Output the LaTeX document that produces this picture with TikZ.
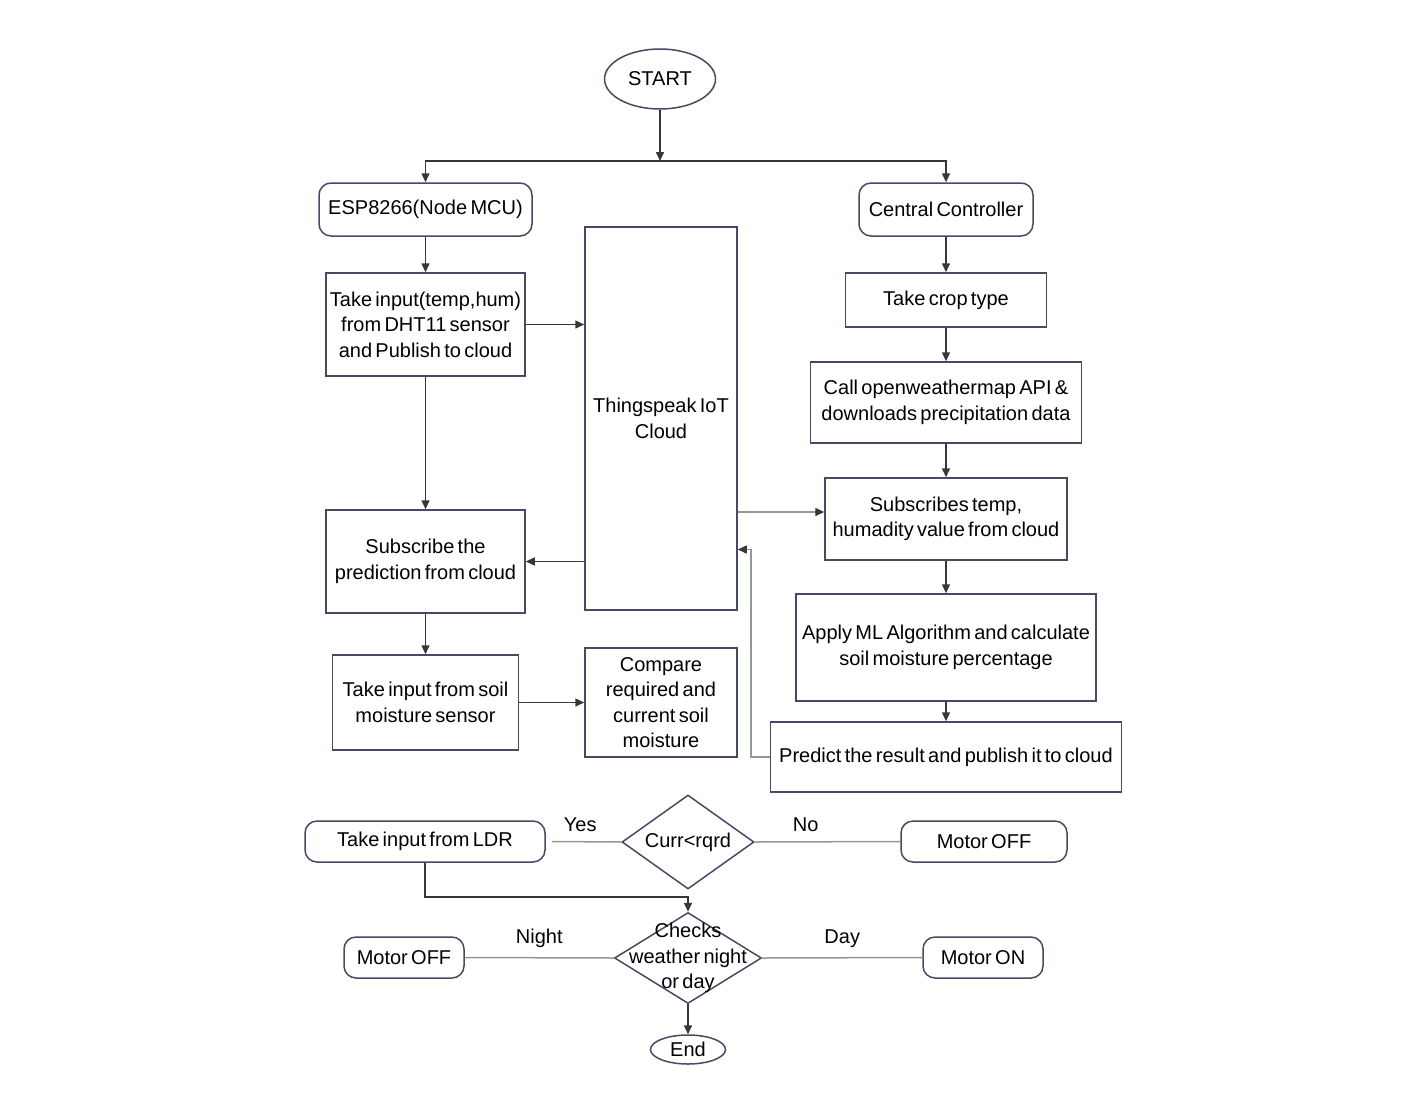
\documentclass[tikz,border=0pt]{standalone}
\usepackage{fontspec}
\setmainfont{Liberation Sans}[WordSpace=0.6]
\usetikzlibrary{shapes.geometric}
\usetikzlibrary{arrows.meta}
\definecolor{boxline}{RGB}{70,74,100}
\definecolor{arrowline}{RGB}{55,55,55}
\definecolor{plainline}{RGB}{150,150,150}
\newcommand\flowfont{\fontsize{20}{25.5}\selectfont}

\begin{document}
\begin{tikzpicture}[x=1pt, y=-1pt, font=\flowfont,
  box/.style={draw=boxline, line width=1.5pt, inner sep=2pt, align=center},
  roundbox/.style={box, rounded corners=12pt},
  term/.style={draw=boxline, line width=1.5pt, ellipse, inner sep=1pt},
  decision/.style={draw=boxline, line width=1.5pt, diamond, inner sep=0pt},
  flow/.style={draw=arrowline, line width=1.5pt, -{Triangle[length=9pt,width=8pt,color=arrowline]}},
  plain/.style={draw=plainline, line width=1.5pt},
  answer/.style={above=8pt, inner sep=1pt}]
  \useasboundingbox (0,0) rectangle (1425,1096);

  % \draw [step=50, very thin] (0,0) grid (1425,1096);
  \node [term, minimum width=111, minimum height=60] (start) at (660,79) {START};

  % left column
  \node [roundbox, minimum width=213, minimum height=53] (esp) at (425.5,209.5) {ESP8266(Node MCU)};
  \node [box, minimum width=199, minimum height=103] (dht) at (425.5,324.5) {Take input(temp,hum)\\from DHT11 sensor\\and Publish to cloud};
  \node [box, minimum width=199, minimum height=103] (subpred) at (425.5,561.5) {Subscribe the\\prediction from cloud};
  \node [box, minimum width=186, minimum height=95] (soil) at (425.5,702.5) {Take input from soil\\moisture sensor};

  % middle
  \node [box, minimum width=152, minimum height=383] (cloud) at (661,418.5) {Thingspeak IoT\\Cloud};
  \node [box, minimum width=152, minimum height=109] (compare) at (661,702.5) {Compare\\required and\\current soil\\moisture};

  % right column
  \node [roundbox, minimum width=174, minimum height=53] (central) at (946,209.5) {Central Controller};
  \node [box, minimum width=201, minimum height=54] (crop) at (946,300) {Take crop type};
  \node [box, minimum width=271, minimum height=81] (weather) at (946,402.5) {Call openweathermap API \&\\downloads precipitation data};
  \node [box, minimum width=242, minimum height=82] (subs) at (946,519) {Subscribes temp,\\humadity value from cloud};
  \node [box, minimum width=300, minimum height=107] (ml) at (946,647.5) {Apply ML Algorithm and calculate\\soil moisture percentage};
  \node [box, minimum width=351, minimum height=70] (predict) at (946,757) {Predict the result and publish it to cloud};

  % bottom part
  \node [roundbox, minimum width=240, minimum height=41] (ldr) at (425,841.5) {Take input from LDR};
  \node [decision, minimum width=132, minimum height=94, label=center:{Curr<rqrd}] (curr) at (688,842) {};
  \node [roundbox, minimum width=166, minimum height=41] (motoroff) at (984,841.5) {Motor OFF};
  \node [decision, minimum width=147, minimum height=91, label={[align=center]center:Checks\\weather night\\or day}] (check) at (688,958) {};
  \node [roundbox, minimum width=120, minimum height=41] (nightoff) at (404,957.5) {Motor OFF};
  \node [roundbox, minimum width=120, minimum height=41] (motoron) at (983,957.5) {Motor ON};
  \node [term, minimum width=75, minimum height=29] (end) at (688,1049.5) {End};

  % start splits to both controllers
  \coordinate (split) at (660,161);
  \draw [flow] (start) -- (split);
  \draw [flow] (split) -| (esp);
  \draw [flow] (split) -| (central);

  \draw [flow] (esp) -- (dht);
  \draw [flow] (dht) -- (subpred);
  \draw [flow] (subpred) -- (soil);
  \draw [flow] (dht.east) -- (dht.east -| cloud.west);
  \draw [flow] (cloud.west |- subpred.east) -- (subpred.east);
  \draw [flow] (soil.east) -- (soil.east -| compare.west);

  \foreach \a/\b in {central/crop, crop/weather, weather/subs, subs/ml, ml/predict}
    \draw [flow] (\a) -- (\b);

  % cloud <-> right column
  \coordinate (subsin) at ([yshift=7pt]subs.west);
  \draw [flow, draw=plainline] (subsin -| cloud.east) -- (subsin);
  \draw [flow, draw=plainline] (predict.west) -- ++(-19,0) |- ([yshift=-131pt]cloud.east);

  % decisions:
  \draw [plain] ([xshift=6pt]ldr.east) -- node [answer, pos=0.41] {Yes} (curr.west);
  \draw [plain] (curr.east) -- node [answer, pos=0.35] {No} (motoroff.west);
  \draw [flow] (ldr.south) -- ++(0,34) -| (check.north);
  \draw [plain] (check.west) -- node [answer] {Night} (nightoff.east);
  \draw [plain] (check.east) -- node [answer] {Day} (motoron.west);
  \draw [flow] (check) -- (end);

\end{tikzpicture}
\end{document}
